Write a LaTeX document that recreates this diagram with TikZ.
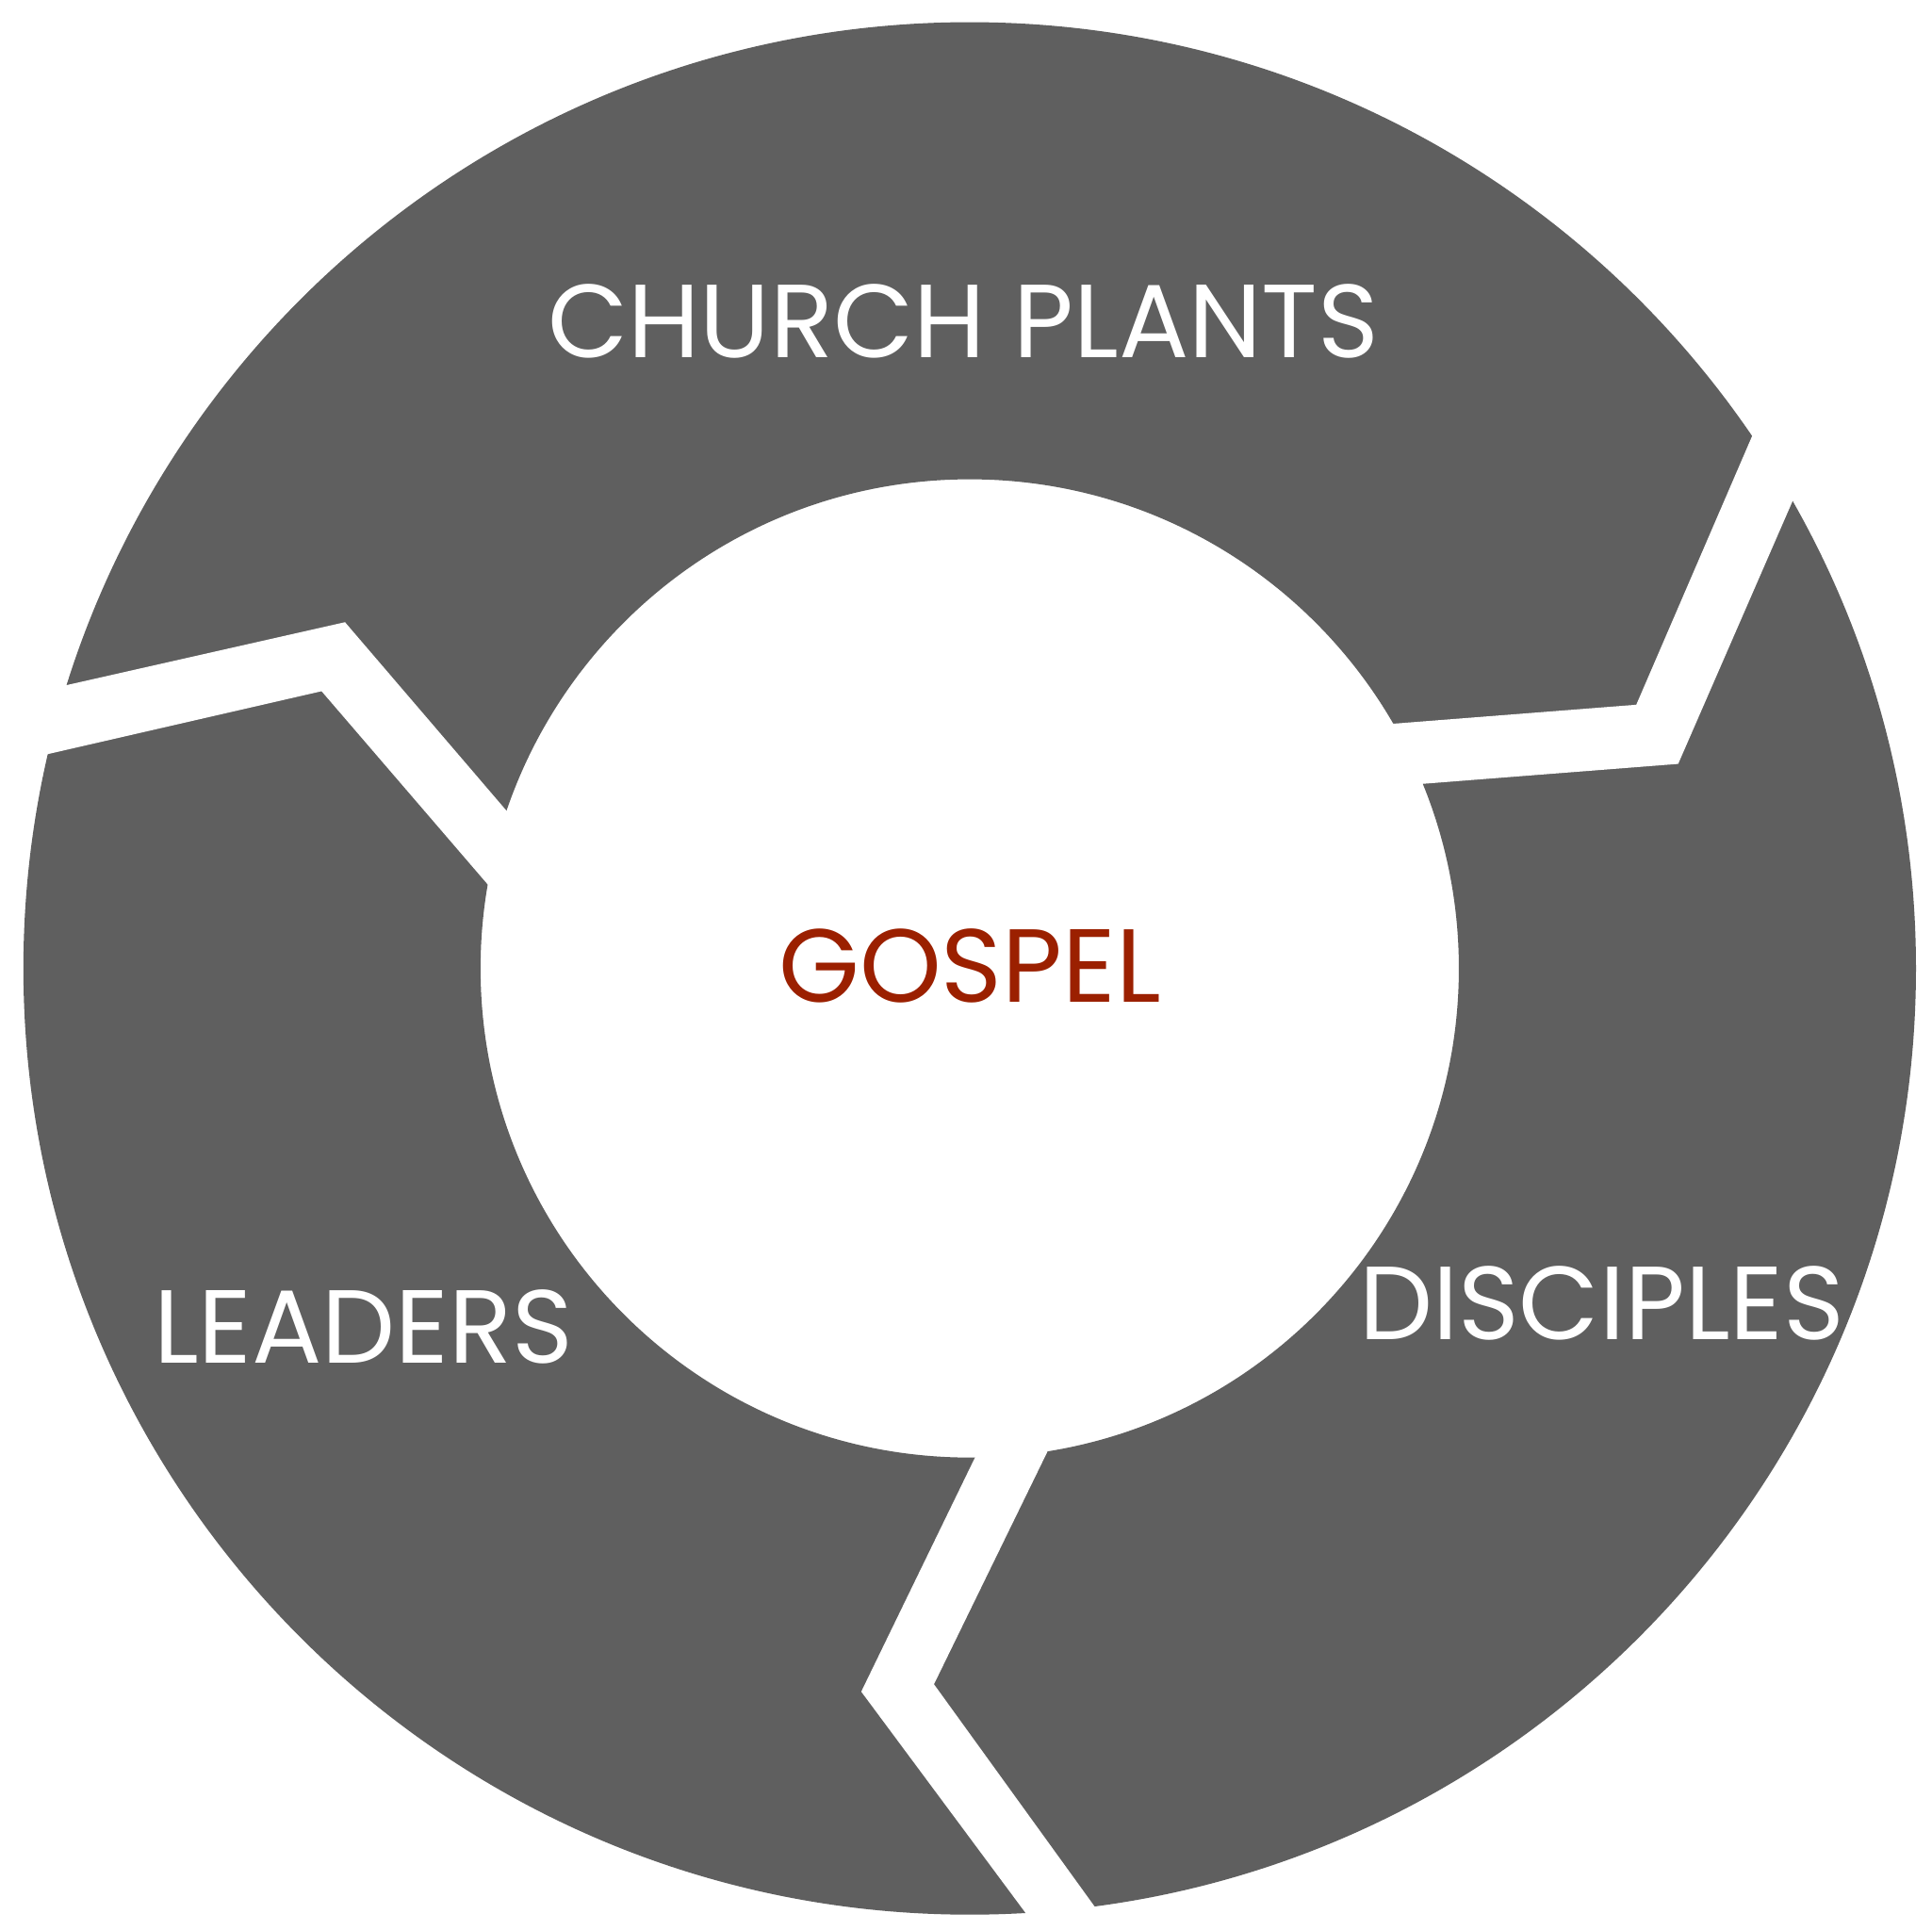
\documentclass[tikz,border=0pt]{standalone}
\usepackage{fontspec}
\setmainfont{Poppins}
\definecolor{seg}{HTML}{5F5F5F}
\definecolor{gosp}{HTML}{9B2000}
\begin{document}
\begin{tikzpicture}[x=0.01cm,y=-0.01cm,
  lbl/.style={font=\fontsize{24}{24}\selectfont, text=white, inner sep=0pt}]
\useasboundingbox (0,0) rectangle (1568,1566);
\fill[white] (0,0) rectangle (1568,1566);
\fill[seg, even odd rule] (787,786) circle[radius=768] (787,786) circle[radius=397];
\fill[white] (-34,576) -- (280,505) -- (465,721) -- (451,782) -- (261,561) -- (-48,632) -- cycle;
\fill[white] (1450,289) -- (1328,572) -- (1072,592) -- (1093,641) -- (1362,620) -- (1483,342) -- cycle;
\fill[white] (819,1126) -- (699,1373) -- (872,1606) -- (930,1605) -- (758,1367) -- (878,1121) -- cycle;
\node[lbl] (cp) at (782,261) {CHURCH PLANTS};
\node[lbl] (di) at (1300,1058) {DISCIPLES};
\node[lbl] (le) at (295,1077) {LEADERS};
\node[lbl, text=gosp] (go) at (787,784) {GOSPEL};
\end{tikzpicture}
\end{document}
